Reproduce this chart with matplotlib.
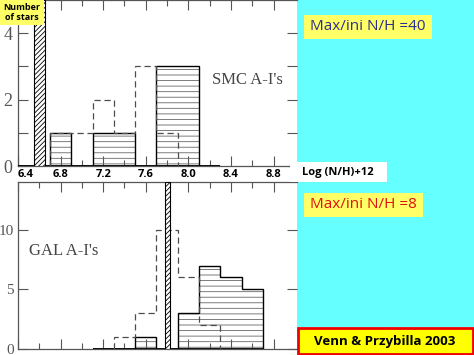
import numpy as np
import matplotlib
matplotlib.use('Agg')
import matplotlib.pyplot as plt
from matplotlib import font_manager
from matplotlib.patches import Rectangle

# SMC A-I supergiants: log(N/H)+12 histograms
smc_edges = [6.3, 6.5, 6.7, 6.9, 7.1, 7.3, 7.5, 7.7, 7.9, 8.1, 8.3]
smc_solid = [0, 0, 1, 0, 1, 1, 0, 3, 3, 0]
smc_dash_edges = [6.7, 6.9, 7.1, 7.3, 7.5, 7.7, 7.9]
smc_dash = [1, 1, 2, 1, 3, 1]
smc_initial = (6.55, 6.65)

# Galactic A-I supergiants
gal_edges = [7.1, 7.3, 7.5, 7.7, 7.9, 8.1, 8.3, 8.5, 8.7]
gal_solid = [0, 0, 1, 0, 3, 7, 6, 5]
gal_dash_edges = [7.3, 7.5, 7.7, 7.9, 8.1, 8.3, 8.5, 8.7]
gal_dash = [1, 3, 10, 6, 2, 0, 0]
gal_initial = (7.78, 7.83)

x_ticks = [6.4, 6.8, 7.2, 7.6, 8.0, 8.4, 8.8]
x_minor = [6.6, 7.0, 7.4, 7.8, 8.2, 8.6]

W, H = 474, 355
plt.rcParams['hatch.linewidth'] = 0.6
SERIF = 'Liberation Serif'
GREY = '#555555'

# pick a sans family that really has a bold face
fonts = font_manager.fontManager.ttflist
SANS = 'DejaVu Sans'
for fam in ['Noto Sans', 'Open Sans', 'Lato', 'Roboto']:
    if any(f.name == fam and f.weight in (700, 'bold') for f in fonts):
        SANS = fam
        break


def fx(px):
    return px / W


def fy(py):
    return 1 - py / H


def draw_hist(ax, edges, solid, dash_edges, dash, initial):
    edges = np.array(edges)
    ax.bar(edges[:-1], solid, width=np.diff(edges), align='edge',
           facecolor='none', edgecolor='0.4', hatch='---', linewidth=0, zorder=2)
    ax.stairs(solid, edges, color='black', lw=1.0, zorder=3)
    ax.hlines(0, edges[0], edges[-1], color='black', lw=1.3, zorder=3)
    ax.stairs(dash, dash_edges, color='0.3', lw=0.9, linestyle=(0, (5, 3)), zorder=3)
    ax.axvspan(initial[0], initial[1], facecolor='white', edgecolor='black',
               hatch='///////', lw=0.8, zorder=4)


def style_axes(ax):
    ax.set_xlim(6.4, 9.02)
    ax.set_xticks(x_ticks)
    ax.set_xticks(x_minor, minor=True)
    ax.tick_params(which='both', direction='in', top=True, right=True,
                   color=GREY, width=0.8)
    ax.tick_params(which='major', length=7)
    ax.tick_params(which='minor', length=4)
    for s in ax.spines.values():
        s.set_color(GREY)
        s.set_linewidth(0.9)
    ax.spines['right'].set_visible(False)


fig = plt.figure(figsize=(W / 100, H / 100), dpi=100)
fig.patch.set_facecolor('white')

# cyan slide background on the right
fig.add_artist(Rectangle((fx(297), fy(327)), fx(177), 327 / H,
                         transform=fig.transFigure, facecolor='#66ffff',
                         edgecolor='none', zorder=-1))

# top panel: SMC
ax1 = fig.add_axes([fx(18), fy(166), fx(297 - 18), 166 / H])
draw_hist(ax1, smc_edges, smc_solid, smc_dash_edges, smc_dash, smc_initial)
style_axes(ax1)
ax1.set_ylim(0, 5)
ax1.set_yticks([0, 1, 2, 3, 4])
ax1.set_yticklabels(['0', '', '2', '', '4'], fontfamily=SERIF, fontsize=13, color=GREY)
ax1.tick_params(axis='y', pad=4)
ax1.set_xticklabels([f'{t:.1f}' for t in x_ticks], fontfamily=SANS,
                    fontweight='bold', fontsize=8)
ax1.get_xticklabels()[0].set_ha('left')
ax1.tick_params(axis='x', pad=2.5)
ax1.text(8.22, 2.6, "SMC A-I's", fontfamily=SERIF, fontsize=12, color='#444444',
         va='center', ha='left')

# bottom panel: Galactic
ax2 = fig.add_axes([fx(18), fy(349), fx(297 - 18), (349 - 182) / H])
draw_hist(ax2, gal_edges, gal_solid, gal_dash_edges, gal_dash, gal_initial)
style_axes(ax2)
ax2.set_ylim(0, 14)
ax2.set_yticks([0, 5, 10])
ax2.set_yticklabels(['0', '5', '10'], fontfamily=SERIF, fontsize=11, color=GREY)
ax2.tick_params(axis='y', pad=3)
ax2.set_xticklabels([])
ax2.text(6.5, 8.2, "GAL A-I's", fontfamily=SERIF, fontsize=12, color='#444444',
         va='center', ha='left')


def box(x0, y0, x1, y1, face, edge='none', lw=0):
    fig.add_artist(Rectangle((fx(x0), fy(y1)), fx(x1 - x0), (y1 - y0) / H,
                             transform=fig.transFigure, facecolor=face,
                             edgecolor=edge, linewidth=lw, zorder=5))


def label(x, y, s, **kw):
    fig.text(fx(x), fy(y), s, ha='center', va='center', zorder=6, **kw)


box(0, 0, 44, 25, '#ffff66')
label(22, 12.5, 'Number\nof stars', fontfamily=SANS, fontweight='bold',
      fontsize=6.5, linespacing=1.1)

box(304, 15, 432, 39, '#ffff66')
label(368, 27, 'Max/ini N/H =40', fontfamily=SANS, fontsize=11, color='#2b2f8c')

box(290, 162, 387, 182, 'white')
label(338, 172, 'Log (N/H)+12', fontfamily=SANS, fontweight='bold', fontsize=8)

box(304, 193, 423, 217, '#ffff66')
label(363, 205, 'Max/ini N/H =8', fontfamily=SANS, fontsize=11, color='#e01010')

box(298, 328, 473, 354, '#ffff00', edge='#ee0000', lw=2)
label(385, 341, 'Venn & Przybilla 2003', fontfamily=SANS, fontsize=9.5,
      fontweight='bold')

fig.savefig('out.png', dpi=100)
